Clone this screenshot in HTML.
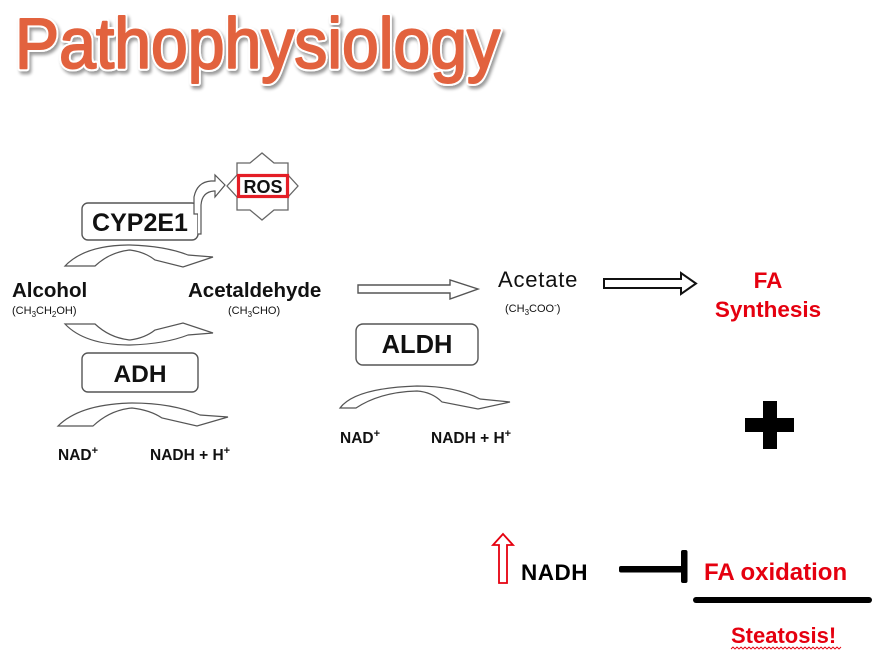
<!DOCTYPE html>
<html>
<head>
<meta charset="utf-8">
<style>
  html,body{margin:0;padding:0;background:#fff;}
  body{width:875px;height:660px;overflow:hidden;}
  svg{display:block;}
  .fig{font-family:"Liberation Sans",Arial,sans-serif;fill:#111;}
</style>
</head>
<body>
<svg width="875" height="660" viewBox="0 0 875 660" xmlns="http://www.w3.org/2000/svg">
  <defs>
    <filter id="sh" x="-5%" y="-20%" width="110%" height="150%">
      <feGaussianBlur in="SourceAlpha" stdDeviation="1.5"/>
      <feOffset dx="2" dy="3" result="o"/>
      <feComponentTransfer><feFuncA type="linear" slope="0.4"/></feComponentTransfer>
      <feMerge><feMergeNode/><feMergeNode in="SourceGraphic"/></feMerge>
    </filter>
  </defs>

  <!-- Title -->
  <text x="15" y="68" font-family="Liberation Sans, Arial, sans-serif" font-size="71" fill="#fff" stroke="#fff" stroke-width="6" stroke-linejoin="round" textLength="485" lengthAdjust="spacingAndGlyphs" filter="url(#sh)">Pathophysiology</text>
  <text x="15" y="68" font-family="Liberation Sans, Arial, sans-serif" font-size="71" fill="#E2623E" stroke="#E2623E" stroke-width="2" stroke-linejoin="round" textLength="485" lengthAdjust="spacingAndGlyphs">Pathophysiology</text>

  <!-- ROS star -->
  <path d="M237,163 L250,163 L262,153 L274,163 L288,163 L288,175 L298,186 L288,197 L288,210 L274,210 L262,220 L250,210 L237,210 L237,197 L227,186 L237,175 Z" fill="#fff" stroke="#666" stroke-width="1.3"/>
  <rect x="238.5" y="175.5" width="49" height="21" fill="#fff" stroke="#E41E26" stroke-width="3.2"/>
  <text class="fig" x="263" y="193" font-size="18" font-weight="bold" text-anchor="middle">ROS</text>

  <!-- CYP2E1 box -->
  <rect x="82" y="203" width="116" height="37" rx="6" fill="#fff" stroke="#555" stroke-width="1.4"/>
  <text class="fig" x="140" y="231" font-size="25" font-weight="bold" text-anchor="middle">CYP2E1</text>

  <!-- bent arrow CYP2E1 -> ROS -->
  <path d="M198,234 L201,234 L201,205 Q202,192 214,191 L215,191 L215,197 L225,185 L215,175 L215,181 L211,181 Q197,182 194,197 L194,214 L198,214" fill="#fff" stroke="#555" stroke-width="1.2"/>

  <!-- arch arrow above (CYP2E1) -->
  <path d="M65,266 L95,266 Q110,252 130,250 Q145,252 155,260 L183,267 L213,257 L188,255 Q165,246 130,245 Q85,245 65,266 Z" fill="#fff" stroke="#555" stroke-width="1.2"/>

  <!-- Alcohol / Acetaldehyde -->
  <text class="fig" x="12" y="297" font-size="20.5" font-weight="bold">Alcohol</text>
  <text class="fig" x="12" y="314" font-size="11" fill="#333">(CH<tspan font-size="8" dy="3">3</tspan><tspan dy="-3">CH</tspan><tspan font-size="8" dy="3">2</tspan><tspan dy="-3">OH)</tspan></text>
  <text class="fig" x="188" y="297" font-size="20.5" font-weight="bold">Acetaldehyde</text>
  <text class="fig" x="228" y="314" font-size="11" fill="#333">(CH<tspan font-size="8" dy="3">3</tspan><tspan dy="-3">CHO)</tspan></text>

  <!-- U arrow below (ADH top) -->
  <path d="M65,324 L95,324 Q110,338 130,340 Q145,338 155,330 L183,323 L213,333 L188,335 Q165,344 130,345 Q85,345 65,324 Z" fill="#fff" stroke="#555" stroke-width="1.2"/>

  <!-- ADH box -->
  <rect x="82" y="353" width="116" height="39" rx="6" fill="#fff" stroke="#555" stroke-width="1.4"/>
  <text class="fig" x="140" y="382" font-size="24.5" font-weight="bold" text-anchor="middle">ADH</text>

  <!-- arch arrow below ADH -->
  <path d="M58,426 L93,426 Q110,410 132,408 Q150,410 162,418 L197,426 L228,417 L200,415 Q172,403 132,403 Q80,404 58,426 Z" fill="#fff" stroke="#555" stroke-width="1.2"/>

  <text class="fig" x="58" y="460" font-size="15.5" font-weight="bold">NAD<tspan font-size="11" dy="-6">+</tspan></text>
  <text class="fig" x="150" y="460" font-size="15.5" font-weight="bold">NADH + H<tspan font-size="11" dy="-6">+</tspan></text>

  <!-- straight hollow arrow -> Acetate -->
  <path d="M358,285 L450,285 L450,280 L478,289 L450,299 L450,293 L358,293 Z" fill="#fff" stroke="#555" stroke-width="1.4"/>

  <text class="fig" x="498" y="287" font-size="22" letter-spacing="0.8" fill="#222">Acetate</text>
  <text class="fig" x="505" y="312" font-size="11" fill="#333">(CH<tspan font-size="8" dy="3">3</tspan><tspan dy="-3">COO</tspan><tspan font-size="8" dy="-4">-</tspan><tspan dy="4">)</tspan></text>

  <!-- ALDH box -->
  <rect x="356" y="324" width="122" height="41" rx="7" fill="#fff" stroke="#555" stroke-width="1.4"/>
  <text class="fig" x="417" y="353" font-size="25.5" font-weight="bold" text-anchor="middle">ALDH</text>

  <!-- arch arrow below ALDH -->
  <path d="M340,408 L356,408 Q380,392 417,391 Q432,392 442,402 L478,409 L510,402 L480,399 Q455,386 417,386 Q355,388 340,408 Z" fill="#fff" stroke="#555" stroke-width="1.2"/>

  <text class="fig" x="340" y="443" font-size="15.5" font-weight="bold">NAD<tspan font-size="11" dy="-6">+</tspan></text>
  <text class="fig" x="431" y="443" font-size="15.5" font-weight="bold">NADH + H<tspan font-size="11" dy="-6">+</tspan></text>

  <!-- Acetate -> FA Synthesis arrow -->
  <path d="M604,279 L681,279 L681,273 L696,283.5 L681,294 L681,288 L604,288 Z" fill="#fff" stroke="#111" stroke-width="2"/>

  <text x="768" y="288" font-family="Liberation Sans, Arial, sans-serif" font-size="22.5" font-weight="bold" fill="#E5000F" text-anchor="middle">FA</text>
  <text x="768" y="317" font-family="Liberation Sans, Arial, sans-serif" font-size="22.5" font-weight="bold" fill="#E5000F" text-anchor="middle">Synthesis</text>

  <!-- plus -->
  <rect x="763" y="401" width="14" height="48" fill="#000"/>
  <rect x="745" y="418" width="49" height="14" fill="#000"/>

  <!-- red up arrow -->
  <path d="M503,534 L513,545 L507,545 L507,583 L499,583 L499,545 L493,545 Z" fill="#fff" stroke="#E5000F" stroke-width="1.8"/>

  <text x="521" y="580" font-family="Liberation Sans, Arial, sans-serif" font-size="22.5" font-weight="bold" fill="#000" letter-spacing="0.5">NADH</text>

  <!-- inhibition -->
  <rect x="619" y="566" width="66" height="6.5" rx="2" fill="#000"/>
  <rect x="681" y="550" width="6.5" height="33" rx="2" fill="#000"/>

  <text x="704" y="580" font-family="Liberation Sans, Arial, sans-serif" font-size="24" font-weight="bold" fill="#E5000F">FA oxidation</text>

  <rect x="693" y="597" width="179" height="6" rx="3" fill="#000"/>

  <text x="731" y="643" font-family="Liberation Sans, Arial, sans-serif" font-size="22" font-weight="bold" fill="#E5000F">Steatosis!</text>
  <polyline points="731,649 733,647 735,649 737,647 739,649 741,647 743,649 745,647 747,649 749,647 751,649 753,647 755,649 757,647 759,649 761,647 763,649 765,647 767,649 769,647 771,649 773,647 775,649 777,647 779,649 781,647 783,649 785,647 787,649 789,647 791,649 793,647 795,649 797,647 799,649 801,647 803,649 805,647 807,649 809,647 811,649 813,647 815,649 817,647 819,649 821,647 823,649 825,647 827,649 829,647 831,649 833,647 835,649 837,647 839,649 841,647" fill="none" stroke="#E5000F" stroke-width="0.9"/>
</svg>
</body>
</html>
